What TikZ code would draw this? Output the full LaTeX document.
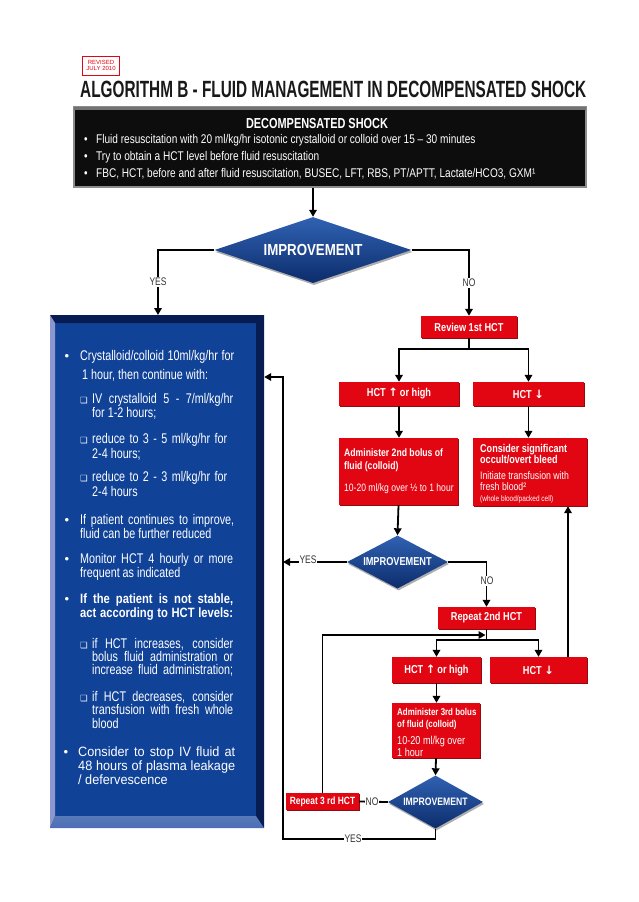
\documentclass[tikz,border=0pt]{standalone}
\usepackage{fontspec}
\setmainfont{Liberation Sans}
\newfontfamily\cnd[FakeStretch=0.77]{Liberation Sans}
\newfontfamily\cndb[FakeStretch=0.83]{Liberation Sans}
\newfontfamily\cndn[FakeStretch=0.94]{Liberation Sans}
\newfontfamily\cndk[FakeStretch=0.8]{Liberation Sans}
\newfontfamily\djv{DejaVu Sans}
\usetikzlibrary{arrows.meta,shapes.geometric,shadows}
\newcommand\fitw[2]{\setbox0=\hbox{#2}\pgfmathsetmacro\fitfac{#1/\the\wd0}\scalebox{\fitfac}[1]{\box0}}
\definecolor{rd}{RGB}{226,6,19}
\definecolor{rddark}{RGB}{140,12,16}
\definecolor{bl}{RGB}{16,66,152}
\definecolor{bldark}{RGB}{6,28,82}
\definecolor{bllight}{RGB}{140,152,205}
\definecolor{blbot}{RGB}{78,108,184}
\definecolor{dtop}{RGB}{48,98,178}
\definecolor{dbot}{RGB}{12,44,108}
\tikzset{
 conn/.style={line width=1.8pt},
 arr/.style={conn,-{Triangle[length=7pt,width=7.5pt]}},
 redbox/.style={rectangle, fill=rd, inner sep=0pt, text=white,
   font=\cndk\bfseries\fontsize{11.5}{12}\selectfont,
   drop shadow={shadow xshift=1.3pt, shadow yshift=-1.3pt, fill=rddark, opacity=1}},
 dia/.style={diamond, inner sep=0pt, top color=dtop, bottom color=dbot, text=white,
   drop shadow={shadow xshift=1pt, shadow yshift=-2pt, fill=black!45, opacity=0.7}},
 lbl/.style={fill=white, inner sep=1pt, text=black!80, font=\cnd\fontsize{11}{11}\selectfont},
 bt/.style={inner sep=0pt, anchor=base west, text=white, font=\cnd\fontsize{14}{14}\selectfont},
 btb/.style={bt, font=\cndb\bfseries\fontsize{13.5}{14}\selectfont},
 btn/.style={bt, font=\cndn\fontsize{13.5}{14}\selectfont},
 blt/.style={inner sep=0pt, anchor=base, text=white, font=\fontsize{13}{13}\selectfont},
 sq/.style={inner sep=0pt, anchor=base west, text=white, font=\djv\fontsize{8.5}{8.5}\selectfont},
 kt/.style={inner sep=0pt, anchor=base west, text=white, font=\cndk\fontsize{12.6}{13}\selectfont},
 rt/.style={inner sep=0pt, anchor=base west, text=white},
}
\begin{document}
\begin{tikzpicture}[x=1pt,y=-1pt]
\useasboundingbox[fill=white] (0,0) rectangle (638,902);

% header
\node[draw=rd, line width=0.8pt, text=rd, font=\fontsize{6}{6.5}\selectfont, align=center,
  inner sep=1pt, minimum width=37pt, minimum height=19pt] (rev) at (101,65.5) {REVISED\\JULY 2010};
\node[anchor=base west, inner sep=0pt, text=black!90] (title) at (80,97)
  {\fitw{506}{\fontsize{23.5}{23.5}\selectfont\bfseries ALGORITHM B - FLUID MANAGEMENT IN DECOMPENSATED SHOCK}};

% black box
\node[fill=black!95, draw=black!45, line width=1.2pt, minimum width=512pt, minimum height=80pt, inner sep=0pt] (bb) at (330,147) {};
\fill[black!55] (74,107) rectangle (586,110);
\node[anchor=base, inner sep=0pt, text=white] (bbt) at (317,128)
  {\fitw{142}{\fontsize{14.5}{14.5}\selectfont\bfseries DECOMPENSATED SHOCK}};
\node[kt] (k1b) at (84,143) {•};
\node[kt] (k1) at (96,143) {Fluid resuscitation with 20 ml/kg/hr isotonic crystalloid or colloid over 15 – 30 minutes};
\node[kt] (k2b) at (84,160) {•};
\node[kt] (k2) at (96,160) {Try to obtain a HCT level before fluid resuscitation};
\node[kt] (k3b) at (84,177) {•};
\node[kt] (k3) at (96,177) {FBC, HCT, before and after fluid resuscitation, BUSEC, LFT, RBS, PT/APTT, Lactate/HCO3, GXM¹};

% main diamond
\node[dia, minimum width=197pt, minimum height=66pt, aspect=3, font=\cndb\bfseries\fontsize{16}{16}\selectfont] (d1) at (313,250) {IMPROVEMENT};

% blue box
\node[fill=bl, minimum width=214pt, minimum height=513pt, inner sep=0pt] (blue) at (157,571.5) {};
\fill[bldark] (50,315) -- (264,315) -- (256,323) -- (55,323) -- cycle;
\fill[bldark] (264,315) -- (264,828) -- (256,816) -- (256,323) -- cycle;
\fill[bllight] (50,315) -- (55,323) -- (55,816) -- (50,828) -- cycle;
\shade[top color=bl!70!white, bottom color=blbot] (50,828) -- (55,816) -- (256,816) -- (264,828) -- cycle;

\node[blt] (b1) at (67,360) {•};
\node[bt] (t1) at (80,360) {\makebox[154pt][s]{Crystalloid/colloid 10ml/kg/hr for}};
\node[bt] (t2) at (82,379) {1 hour, then continue with:};
\node[sq] (s1) at (80,403) {❑};
\node[bt] (t3) at (92,403) {\makebox[141pt][s]{IV crystalloid 5 - 7/ml/kg/hr}};
\node[bt] (t4) at (92,417) {for 1-2 hours;};
\node[sq] (s2) at (80,443) {❑};
\node[bt] (t5) at (92,443) {\makebox[135pt][s]{reduce to 3 - 5 ml/kg/hr for}};
\node[bt] (t6) at (92,458) {2-4 hours;};
\node[sq] (s3) at (80,481) {❑};
\node[bt] (t7) at (92,481) {\makebox[135pt][s]{reduce to 2 - 3 ml/kg/hr for}};
\node[bt] (t8) at (92,496) {2-4 hours};
\node[blt] (b2) at (67,524) {•};
\node[bt] (t9) at (80,524) {\makebox[154pt][s]{If patient continues to improve,}};
\node[bt] (t10) at (80,538) {fluid can be further reduced};
\node[blt] (b3) at (67,563) {•};
\node[bt] (t11) at (80,563) {\makebox[153pt][s]{Monitor HCT 4 hourly or more}};
\node[bt] (t12) at (80,577) {frequent as indicated};
\node[blt] (b4) at (67,603) {•};
\node[btb] (t13) at (80,603) {\makebox[153pt][s]{If the patient is not stable,}};
\node[btb] (t14) at (80,617) {\makebox[153pt][s]{act according to HCT levels:}};
\node[sq] (s4) at (80,648) {❑};
\node[bt] (t15) at (92,648) {\makebox[141pt][s]{if HCT increases, consider}};
\node[bt] (t16) at (92,661) {\makebox[141pt][s]{bolus fluid administration or}};
\node[bt] (t17) at (92,674) {\makebox[141pt][s]{increase fluid administration;}};
\node[sq] (s5) at (80,701) {❑};
\node[bt] (t18) at (92,701) {\makebox[141pt][s]{if HCT decreases, consider}};
\node[bt] (t19) at (92,714) {\makebox[141pt][s]{transfusion with fresh whole}};
\node[bt] (t20) at (92,728) {blood};
\node[blt] (b5) at (66,756) {•};
\node[btn] (t21) at (78,756) {\makebox[157pt][s]{Consider to stop IV fluid at}};
\node[btn] (t22) at (78,770) {\makebox[157pt][s]{48 hours of plasma leakage}};
\node[btn] (t23) at (78,784) {/ defervescence};

% red boxes
\node[redbox, minimum width=96pt, minimum height=22pt] (rev1) at (469,327) {Review 1st HCT};
\node[redbox, minimum width=120pt, minimum height=24pt] (h1u) at (399,394) {HCT {\djv\bfseries ↑}\,or high};
\node[redbox, minimum width=111pt, minimum height=24pt] (h1d) at (528.5,394) {HCT {\djv\bfseries ↓}};
\node[redbox, minimum width=119pt, minimum height=67pt] (adm2) at (398.5,471.5) {};
\node[rt, font=\cndk\bfseries\fontsize{10.8}{10}\selectfont] (a2l1) at (344,456) {Administer 2nd bolus of};
\node[rt, font=\cndk\bfseries\fontsize{10.8}{10}\selectfont] (a2l2) at (344,469) {fluid (colloid)};
\node[rt, font=\cndk\fontsize{10.7}{10}\selectfont] (a2l3) at (344,491) {10-20 ml/kg over ½ to 1 hour};
\node[redbox, minimum width=114pt, minimum height=68pt] (cons) at (530,472) {};
\node[rt, font=\cndk\bfseries\fontsize{11.3}{10}\selectfont] (c1) at (480,452) {Consider significant};
\node[rt, font=\cndk\bfseries\fontsize{11.3}{10}\selectfont] (c2) at (480,463) {occult/overt bleed};
\node[rt, font=\cndk\fontsize{10.9}{10}\selectfont] (c3) at (480,479) {Initiate transfusion with};
\node[rt, font=\cndk\fontsize{10.9}{10}\selectfont] (c4) at (480,490) {fresh blood²};
\node[rt, font=\cndk\fontsize{8.1}{8}\selectfont] (c5) at (480,501) {(whole blood/packed cell)};

\node[dia, minimum width=101pt, minimum height=53pt, aspect=1.9, font=\cndk\bfseries\fontsize{11.5}{11.5}\selectfont] (d2) at (397.5,562) {IMPROVEMENT};
\node[redbox, minimum width=97pt, minimum height=22pt] (rep2) at (486.5,618) {Repeat 2nd HCT};
\node[redbox, minimum width=89pt, minimum height=26pt] (h2u) at (436.5,670) {HCT {\djv\bfseries ↑}\,or high};
\node[redbox, minimum width=97pt, minimum height=26pt] (h2d) at (538.5,670) {HCT {\djv\bfseries ↓}};
\node[redbox, minimum width=88pt, minimum height=55pt] (adm3) at (436,730.5) {};
\node[rt, font=\cndk\bfseries\fontsize{9.9}{10}\selectfont] (a3l1) at (397,715) {Administer 3rd bolus};
\node[rt, font=\cndk\bfseries\fontsize{9.9}{10}\selectfont] (a3l2) at (397,727) {of fluid (colloid)};
\node[rt, font=\cndk\fontsize{11.4}{10}\selectfont] (a3l3) at (397,744) {10-20 ml/kg over};
\node[rt, font=\cndk\fontsize{11.4}{10}\selectfont] (a3l4) at (397,756) {1 hour};
\node[dia, minimum width=95pt, minimum height=53pt, aspect=1.8, font=\cndk\bfseries\fontsize{10.8}{10.8}\selectfont] (d3) at (435.5,802) {IMPROVEMENT};
\node[redbox, minimum width=73pt, minimum height=17pt, font=\cndk\bfseries\fontsize{10.5}{10}\selectfont] (rep3) at (322.5,801.5) {Repeat 3 rd HCT};

% coordinates
\coordinate (yes1) at (158,315);
\coordinate (j1) at (469,349);
\coordinate (j2) at (486.5,640);
\coordinate (j3) at (485.5,635);
\coordinate (lx) at (283,562);
\coordinate (l1) at (283,839);
\coordinate (l2) at (283,377);
\coordinate (up1) at (568,657);

% connectors
\draw[arr] (d1.north |- bb.south) -- (d1.north);
\draw[arr] (d1.west) -| (yes1);
\draw[arr] (d1.east) -| (rev1.north);
\draw[conn] (rev1.south) -- (j1);
\draw[arr] (j1) -| (h1u.north);
\draw[arr] (j1) -| (h1d.north);
\draw[arr] (h1u.south) -- (adm2.north -| h1u.south);
\draw[arr] (h1d.south) -- (cons.north -| h1d.south);
\draw[arr] (adm2.south) -- (d2.north);
\draw[arr] (d2.west) -- (lx);
\draw[arr] (d2.east) -| (rep2.north);
\draw[conn] (rep2.south) -- (j2);
\draw[arr] (j2) -| (h2u.north);
\draw[arr] (j2) -| (h2d.north);
\draw[arr] (up1) -- (up1 |- cons.south);
\draw[arr] (h2u.south) -- (adm3.north -| h2u.south);
\draw[arr] (adm3.south) -- (d3.north);
\draw[conn] (d3.west) -- (rep3.east);
\draw[arr] (rep3.north) |- (j3);
\draw[arr] (d3.south) |- (l1) -- (l2) -- (l2 -| blue.east);

% labels
\node[lbl] (ly1) at (158,282) {YES};
\node[lbl] (ln1) at (469,283) {NO};
\node[lbl] (ly2) at (308,560) {YES};
\node[lbl] (ln2) at (487,581) {NO};
\node[lbl] (ln3) at (372,802) {NO};
\node[lbl] (ly3) at (353,839) {YES};
\end{tikzpicture}
\end{document}
